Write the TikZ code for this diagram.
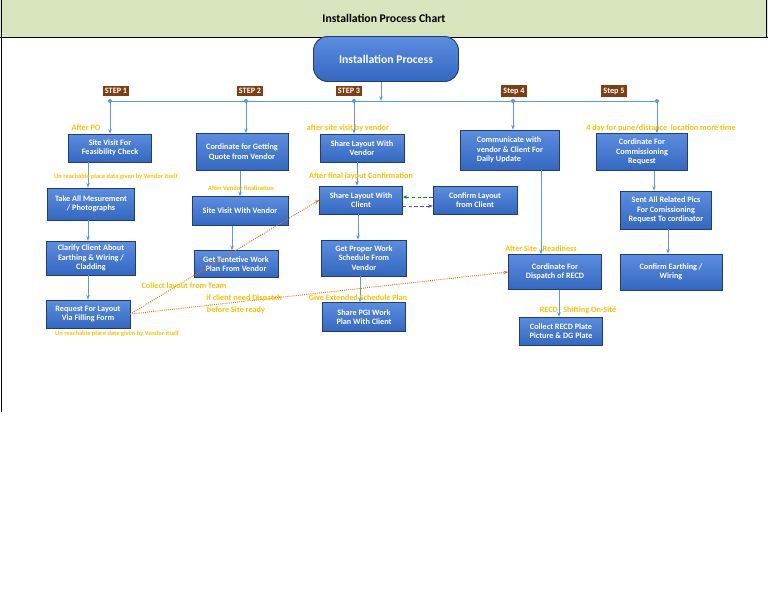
\documentclass[tikz,border=0pt]{standalone}
\usepackage{fontspec}
\setmainfont{Carlito}
\usetikzlibrary{arrows.meta}
\definecolor{boxblue}{HTML}{3467C0}
\definecolor{boxtop}{HTML}{5B8EE0}
\definecolor{linkblue}{HTML}{5B9BD5}
\definecolor{stepbrown}{HTML}{7F3F12}
\definecolor{noteorange}{HTML}{FFC000}
\definecolor{headgreen}{HTML}{D8E4BC}
\tikzset{
  every picture/.style={x=0.03cm, y=-0.03cm},
  task/.style={draw=boxblue!60!black, top color=boxtop, bottom color=boxblue, text=white,
    font=\fontsize{7}{8}\selectfont\bfseries, align=center, inner sep=1pt},
  step tag/.style={fill=stepbrown, text=white, font=\fontsize{7}{8}\selectfont\bfseries, inner sep=2pt},
  note/.style={text=noteorange, font=\fontsize{7}{8}\selectfont\bfseries, inner sep=0pt},
  small note/.style={note, font=\fontsize{5.5}{6}\selectfont\bfseries},
  link/.style={linkblue, thick, -{Stealth[length=4pt]}},
  orange link/.style={orange!80!red, densely dotted, thick, -{Stealth[length=4pt]}}
}
\begin{document}
\begin{tikzpicture}
    \useasboundingbox (0,0) rectangle (768,594);

    % Header band
    \fill[headgreen] (0,0) rectangle (768,37);
    \draw (0,37) -- (768,37);
    \draw (1,0) -- (1,412);
    \draw (766,0) -- (766,37);
    \node[font=\fontsize{10}{12}\selectfont\bfseries] (title) at (384,18) {Installation Process Chart};

    % Main node
    \node[draw=boxblue!60!black, thick, top color=boxtop, bottom color=boxblue, text=white,
      rounded corners=12pt, minimum width=145*0.03cm, minimum height=45*0.03cm,
      font=\fontsize{10}{12}\selectfont\bfseries] (main) at (386,59) {Installation Process};

    % Step labels
    \node[step tag] (s1) at (116,91) {STEP 1};
    \node[step tag] (s2) at (250,91) {STEP 2};
    \node[step tag] (s3) at (349,91) {STEP 3};
    \node[step tag] (s4) at (514,91) {Step 4};
    \node[step tag] (s5) at (614,91) {Step 5};

    % Bus
    \coordinate (busL) at (110,101);
    \coordinate (busR) at (657,101);
    \draw[linkblue, thick] (busL) -- (busR);
    \draw[link] (main.south -| 381,0) -- (381,101);

    % Step 1
    \node[task, minimum width=83*0.03cm, minimum height=28*0.03cm] (a1) at (110,148) {Site Visit For\\Feasibility Check};
    \node[task, minimum width=87*0.03cm, minimum height=32*0.03cm] (a2) at (91,204) {Take All Mesurement\\/ Photographs};
    \node[task, minimum width=89*0.03cm, minimum height=34*0.03cm] (a3) at (91,258) {Clarify Client About\\Earthing \& Wiring /\\Cladding};
    \node[task, minimum width=84*0.03cm, minimum height=28*0.03cm] (a4) at (88,314) {Request For Layout\\Via Filling Form};

    % Step 2
    \node[task, minimum width=92*0.03cm, minimum height=37*0.03cm] (b1) at (242,152) {Cordinate for Getting\\Quote from Vendor};
    \node[task, minimum width=96*0.03cm, minimum height=29*0.03cm] (b2) at (240,211) {Site Visit With Vendor};
    \node[task, minimum width=84*0.03cm, minimum height=27*0.03cm] (b3) at (236,264) {Get Tentetive Work\\Plan From Vendor};

    % Step 3
    \node[task, minimum width=84*0.03cm, minimum height=28*0.03cm] (c1) at (362,148) {Share Layout With\\Vendor};
    \node[task, minimum width=83*0.03cm, minimum height=28*0.03cm] (c2) at (361,200) {Share Layout With\\Client};
    \node[task, minimum width=84*0.03cm, minimum height=28*0.03cm] (c3) at (475,200) {Confirm Layout\\from Client};
    \node[task, minimum width=85*0.03cm, minimum height=36*0.03cm] (c4) at (364,258) {Get Proper Work\\Schedule From\\Vendor};
    \node[task, minimum width=83*0.03cm, minimum height=29*0.03cm] (c5) at (364,317) {Share PGI Work\\Plan With Client};

    % Step 4
    \node[task, align=left, minimum width=99*0.03cm, minimum height=40*0.03cm] (d1) at (510,150) {Communicate with\\vendor \& Client For\\Daily Update};
    \node[task, minimum width=93*0.03cm, minimum height=35*0.03cm] (d2) at (555,272) {Cordinate For\\Dispatch of RECD};
    \node[task, minimum width=83*0.03cm, minimum height=28*0.03cm] (d3) at (561,331) {Collect RECD Plate\\Picture \& DG Plate};

    % Step 5
    \node[task, minimum width=91*0.03cm, minimum height=37*0.03cm] (e1) at (642,152) {Cordinate For\\Commissioning\\Request};
    \node[task, minimum width=91*0.03cm, minimum height=38*0.03cm] (e2) at (666,210) {Sent All Related Pics\\For Comissioning\\Request To cordinator};
    \node[task, minimum width=102*0.03cm, minimum height=36*0.03cm] (e3) at (671,272) {Confirm Earthing /\\Wiring};

    % Bus drops
    \draw[link] (busL) -- (a1.north -| busL);
    \draw[link] (246,101) -- (b1.north -| 246,0);
    \draw[link] (354,101) -- (c1.north -| 354,0);
    \draw[link] (513,101) -- (d1.north -| 513,0);
    \draw[link] (busR) -- (e1.north -| busR);
    \foreach \bx in {110,246,354,513,657}
        \fill[linkblue] (\bx,101) circle (2);

    % Chains
    \draw[link] (a1.south -| 88,0) -- (a2.north -| 88,0);
    \draw[link] (a2.south -| 88,0) -- (a3.north -| 88,0);
    \draw[link] (a3.south -| 88,0) -- (a4.north -| 88,0);
    \draw[link] (b1.south -| 240,0) -- (b2.north -| 240,0);
    \draw[link] (b2.south -| 232,0) -- (b3.north -| 232,0);
    \draw[link] (c1.south -| 357,0) -- (c2.north -| 357,0);
    \draw[link] (c2.south -| 358,0) -- (c4.north -| 358,0);
    \draw[link] (c4.south -| 360,0) -- (c5.north -| 360,0);
    \draw[link] (d1.south -| 541,0) -- (d2.north -| 541,0);
    \draw[link] (d2.south -| 559,0) -- (d3.north -| 559,0);
    \draw[link] (e1.south -| 654,0) -- (e2.north -| 654,0);
    \draw[link] (e2.south -| 668,0) -- (e3.north -| 668,0);

    % Side links
    \draw[green!60!black, densely dashed, thick, -{Stealth[length=4pt]}] (c3.west |- 0,197) -- (c2.east |- 0,197);
    \draw[blue!70, densely dashed, thick, -{Stealth[length=4pt]}] (c2.east |- 0,206) -- (c3.west |- 0,206);
    \draw[orange link] (a4.east) -- (c2.west);
    \draw[orange link] (a4.east) -- (d2.west);

    % Notes
    \node[note] (n1) at (86,128) {After PO};
    \node[small note] (n2) at (116,177) {Un reachable place data given by Vendor itself};
    \node[small note] (n3) at (117,334) {Un reachable place date given by Vendor itself};
    \node[small note] (n4) at (241,188) {After Vendor finalisation};
    \node[note] (n5) at (184,286) {Collect layout from Team};
    \node[note] (n6) at (244,298) {if client need Dispatch};
    \node[note] (n7) at (236,310) {before Site ready};
    \node[note] (n8) at (348,128) {after site visit by vendor};
    \node[note] (n9) at (361,176) {After final layout Confirmation};
    \node[note] (n10) at (358,298) {Give Extended Schedule Plan};
    \node[note] (n11) at (541,249) {After Site\ \ \ Readiness};
    \node[note] (n12) at (578,310) {RECD\ \ \ Shifting On-Site};
    \node[note] (n13) at (661,128) {4 day for pune/distance\ \ location more time};
\end{tikzpicture}
\end{document}
